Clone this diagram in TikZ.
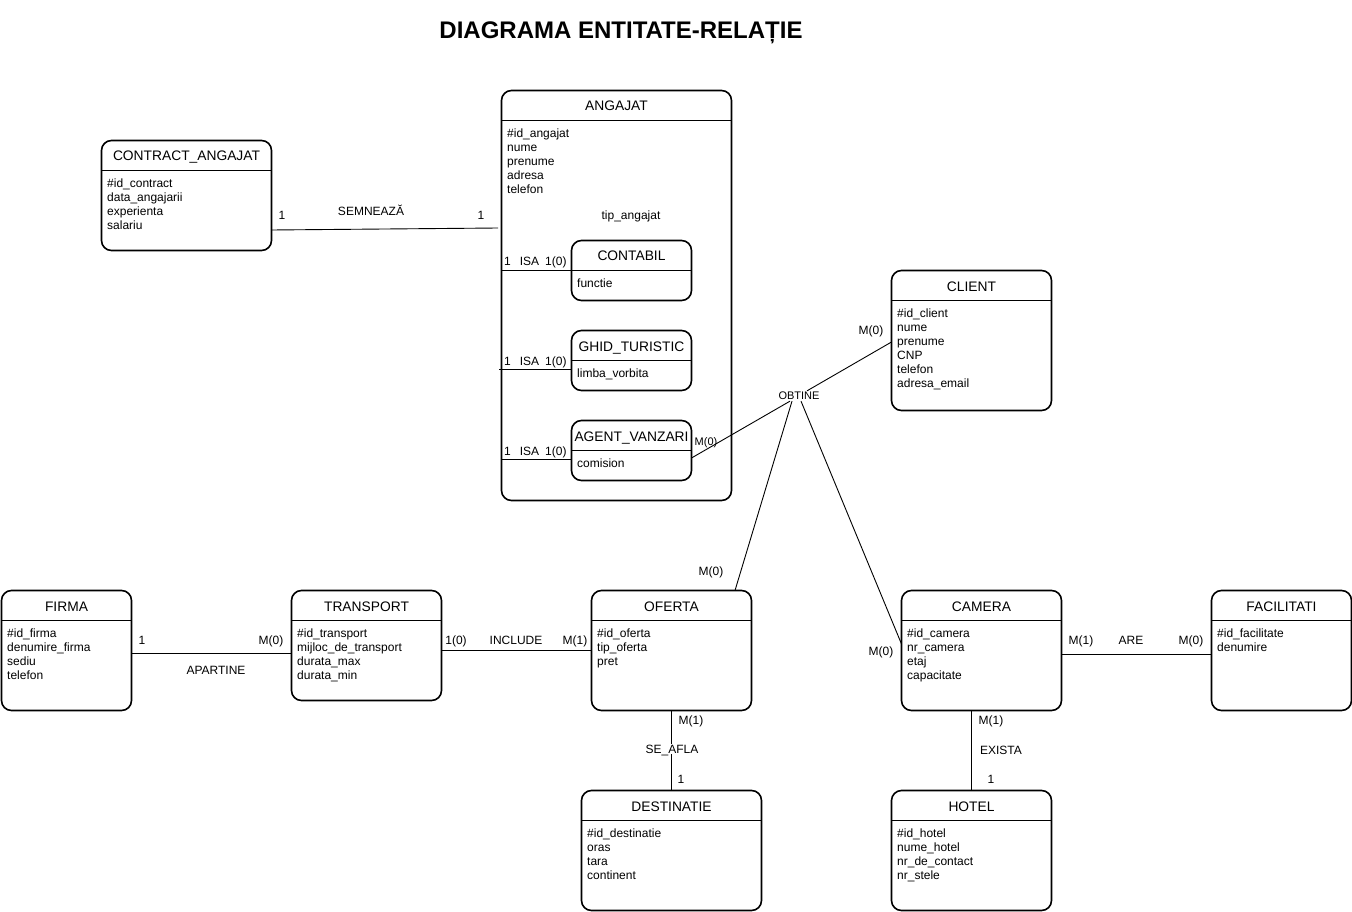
\documentclass[tikz,border=0pt]{standalone}
\usepackage{fontspec}
\setmainfont{Liberation Sans}

\tikzset{
  entity/.style={draw, line width=1.6pt, rounded corners=10pt, anchor=north west, inner sep=0pt, outer sep=0pt},
  etitle/.style={anchor=base, inner sep=0pt, font=\fontsize{13.8}{15}\selectfont},
  attrs/.style={anchor=north west, align=left, inner sep=0pt, font=\fontsize{12}{14}\selectfont},
  divider/.style={line width=1.2pt},
  rel/.style={line width=0.9pt},
  lbl/.style={inner sep=1pt, text height=8.6pt, text depth=0pt, font=\fontsize{12}{14}\selectfont},
  small/.style={inner sep=1pt, text height=7.9pt, text depth=0pt, font=\fontsize{11}{13}\selectfont},
}

\begin{document}
\begin{tikzpicture}[x=1pt,y=-1pt]
\useasboundingbox (0,0) rectangle (1352,912);

\node[anchor=base, font=\bfseries\fontsize{24}{28}\selectfont] (title) at (621,38.5) {DIAGRAMA ENTITATE-RELAȚIE};

% entitati
\node[entity, minimum width=170pt, minimum height=110pt] (contract) at (101.5,140.5) {};
\node[etitle] (contractT) at ([yshift=-20.5pt]contract.north) {CONTRACT\_ANGAJAT};
\draw[divider] ([yshift=-30pt]contract.north west) -- ([yshift=-30pt]contract.north east);
\node[attrs] (contractA) at ([shift={(5.5pt,-38.5pt)}]contract.north west) {\#id\_contract\\data\_angajarii\\experienta\\salariu};

\node[entity, minimum width=230pt, minimum height=410pt] (angajat) at (501.5,90.5) {};
\node[etitle] (angajatT) at ([yshift=-20.5pt]angajat.north) {ANGAJAT};
\draw[divider] ([yshift=-30pt]angajat.north west) -- ([yshift=-30pt]angajat.north east);
\node[attrs] (angajatA) at ([shift={(5.5pt,-38.5pt)}]angajat.north west) {\#id\_angajat\\nume\\prenume\\adresa\\telefon};

\node[entity, minimum width=120pt, minimum height=60pt] (contabil) at (571.5,240.5) {};
\node[etitle] (contabilT) at ([yshift=-20.5pt]contabil.north) {CONTABIL};
\draw[divider] ([yshift=-30pt]contabil.north west) -- ([yshift=-30pt]contabil.north east);
\node[attrs] (contabilA) at ([shift={(5.5pt,-38.5pt)}]contabil.north west) {functie};

\node[entity, minimum width=120pt, minimum height=60pt] (ghid) at (571.5,330.5) {};
\node[etitle] (ghidT) at ([yshift=-20.5pt]ghid.north) {GHID\_TURISTIC};
\draw[divider] ([yshift=-30pt]ghid.north west) -- ([yshift=-30pt]ghid.north east);
\node[attrs] (ghidA) at ([shift={(5.5pt,-38.5pt)}]ghid.north west) {limba\_vorbita};

\node[entity, minimum width=120pt, minimum height=60pt] (agent) at (571.5,420.5) {};
\node[etitle] (agentT) at ([yshift=-20.5pt]agent.north) {AGENT\_VANZARI};
\draw[divider] ([yshift=-30pt]agent.north west) -- ([yshift=-30pt]agent.north east);
\node[attrs] (agentA) at ([shift={(5.5pt,-38.5pt)}]agent.north west) {comision};

\node[entity, minimum width=160pt, minimum height=140pt] (client) at (891.5,270.5) {};
\node[etitle] (clientT) at ([yshift=-20.5pt]client.north) {CLIENT};
\draw[divider] ([yshift=-30pt]client.north west) -- ([yshift=-30pt]client.north east);
\node[attrs] (clientA) at ([shift={(5.5pt,-38.5pt)}]client.north west) {\#id\_client\\nume\\prenume\\CNP\\telefon\\adresa\_email};

\node[entity, minimum width=130pt, minimum height=120pt] (firma) at (1.5,590.5) {};
\node[etitle] (firmaT) at ([yshift=-20.5pt]firma.north) {FIRMA};
\draw[divider] ([yshift=-30pt]firma.north west) -- ([yshift=-30pt]firma.north east);
\node[attrs] (firmaA) at ([shift={(5.5pt,-38.5pt)}]firma.north west) {\#id\_firma\\denumire\_firma\\sediu\\telefon};

\node[entity, minimum width=150pt, minimum height=110pt] (transport) at (291.5,590.5) {};
\node[etitle] (transportT) at ([yshift=-20.5pt]transport.north) {TRANSPORT};
\draw[divider] ([yshift=-30pt]transport.north west) -- ([yshift=-30pt]transport.north east);
\node[attrs] (transportA) at ([shift={(5.5pt,-38.5pt)}]transport.north west) {\#id\_transport\\mijloc\_de\_transport\\durata\_max\\durata\_min};

\node[entity, minimum width=160pt, minimum height=120pt] (oferta) at (591.5,590.5) {};
\node[etitle] (ofertaT) at ([yshift=-20.5pt]oferta.north) {OFERTA};
\draw[divider] ([yshift=-30pt]oferta.north west) -- ([yshift=-30pt]oferta.north east);
\node[attrs] (ofertaA) at ([shift={(5.5pt,-38.5pt)}]oferta.north west) {\#id\_oferta\\tip\_oferta\\pret};

\node[entity, minimum width=160pt, minimum height=120pt] (camera) at (901.5,590.5) {};
\node[etitle] (cameraT) at ([yshift=-20.5pt]camera.north) {CAMERA};
\draw[divider] ([yshift=-30pt]camera.north west) -- ([yshift=-30pt]camera.north east);
\node[attrs] (cameraA) at ([shift={(5.5pt,-38.5pt)}]camera.north west) {\#id\_camera\\nr\_camera\\etaj\\capacitate};

\node[entity, minimum width=140pt, minimum height=120pt] (facilitati) at (1211.5,590.5) {};
\node[etitle] (facilitatiT) at ([yshift=-20.5pt]facilitati.north) {FACILITATI};
\draw[divider] ([yshift=-30pt]facilitati.north west) -- ([yshift=-30pt]facilitati.north east);
\node[attrs] (facilitatiA) at ([shift={(5.5pt,-38.5pt)}]facilitati.north west) {\#id\_facilitate\\denumire};

\node[entity, minimum width=180pt, minimum height=120pt] (destinatie) at (581.5,790.5) {};
\node[etitle] (destinatieT) at ([yshift=-20.5pt]destinatie.north) {DESTINATIE};
\draw[divider] ([yshift=-30pt]destinatie.north west) -- ([yshift=-30pt]destinatie.north east);
\node[attrs] (destinatieA) at ([shift={(5.5pt,-38.5pt)}]destinatie.north west) {\#id\_destinatie\\oras\\tara\\continent};

\node[entity, minimum width=160pt, minimum height=120pt] (hotel) at (891.5,790.5) {};
\node[etitle] (hotelT) at ([yshift=-20.5pt]hotel.north) {HOTEL};
\draw[divider] ([yshift=-30pt]hotel.north west) -- ([yshift=-30pt]hotel.north east);
\node[attrs] (hotelA) at ([shift={(5.5pt,-38.5pt)}]hotel.north west) {\#id\_hotel\\nume\_hotel\\nr\_de\_contact\\nr\_stele};

% relatii
\node[small] (obtine) at (799,396) {OBTINE};
\draw[rel] ([yshift=-34.5pt]contract.east) -- ([shift={(-3.5pt,67.5pt)}]angajat.west);
\draw[rel] (contabil.west) -- (contabil.west -| angajat.west);
\draw[rel] ([yshift=-8.5pt]ghid.west) -- ([shift={(-2.5pt,-8.5pt)}]ghid.west -| angajat.west);
\draw[rel] ([yshift=-8.5pt]agent.west) -- ([yshift=-8.5pt]agent.west -| angajat.west);
\draw[rel] ([yshift=-7.5pt]agent.east) -- ([xshift=-9pt]obtine.south);
\draw[rel] ([yshift=-1.5pt]client.west) -- ([xshift=8pt]obtine.north);
\draw[rel] ([xshift=63.5pt]oferta.north) -- ([xshift=-7pt]obtine.south);
\draw[rel] ([yshift=6.5pt]camera.west) -- ([xshift=2pt]obtine.south);
\draw[rel] ([yshift=-2.5pt]firma.east) -- ([yshift=-2.5pt]firma.east -| transport.west);
\draw[rel] ([yshift=-4.5pt]transport.east) -- ([yshift=-4.5pt]transport.east -| oferta.west);
\draw[rel] ([yshift=-3.5pt]camera.east) -- ([yshift=-3.5pt]camera.east -| facilitati.west);
\draw[rel] (oferta.south) -- (destinatie.north);
\draw[rel] (camera.south -| hotel.north) -- (hotel.north);

% etichete
\node[lbl] (semS1) at (282,215) {1};
\node[lbl] (semneaza) at (371,211) {SEMNEAZĂ};
\node[lbl] (semS2) at (481,215) {1};
\node[lbl] (tip) at (631,215) {tip\_angajat};
\node[lbl, anchor=west] (isa1) at (503,261) {1\hspace{9pt}ISA\hspace{6pt}1(0)};
\node[lbl, anchor=west] (isa2) at (503,361) {1\hspace{9pt}ISA\hspace{6pt}1(0)};
\node[lbl, anchor=west] (isa3) at (503,451) {1\hspace{9pt}ISA\hspace{6pt}1(0)};
\node[small] (obA) at (706,442) {M(0)};
\node[lbl] (obC) at (871,330) {M(0)};
\node[lbl] (obO) at (711,571) {M(0)};
\node[lbl] (obK) at (881,651) {M(0)};
\node[lbl] (apF) at (142,640) {1};
\node[lbl] (apT) at (271,640) {M(0)};
\node[lbl] (apartine) at (216,670) {APARTINE};
\node[lbl] (inT) at (456,640) {1(0)};
\node[lbl] (include) at (516,640) {INCLUDE};
\node[lbl] (inO) at (575,640) {M(1)};
\node[lbl] (seO) at (691,720) {M(1)};
\node[lbl, fill=white] (seafla) at (672,749) {SE\_AFLA};
\node[lbl] (seD) at (681,779) {1};
\node[lbl] (arC) at (1081,640) {M(1)};
\node[lbl] (are) at (1131,640) {ARE};
\node[lbl] (arF) at (1191,640) {M(0)};
\node[lbl] (exC) at (991,720) {M(1)};
\node[lbl] (exista) at (1001,750) {EXISTA};
\node[lbl] (exH) at (991,779) {1};
\end{tikzpicture}
\end{document}
